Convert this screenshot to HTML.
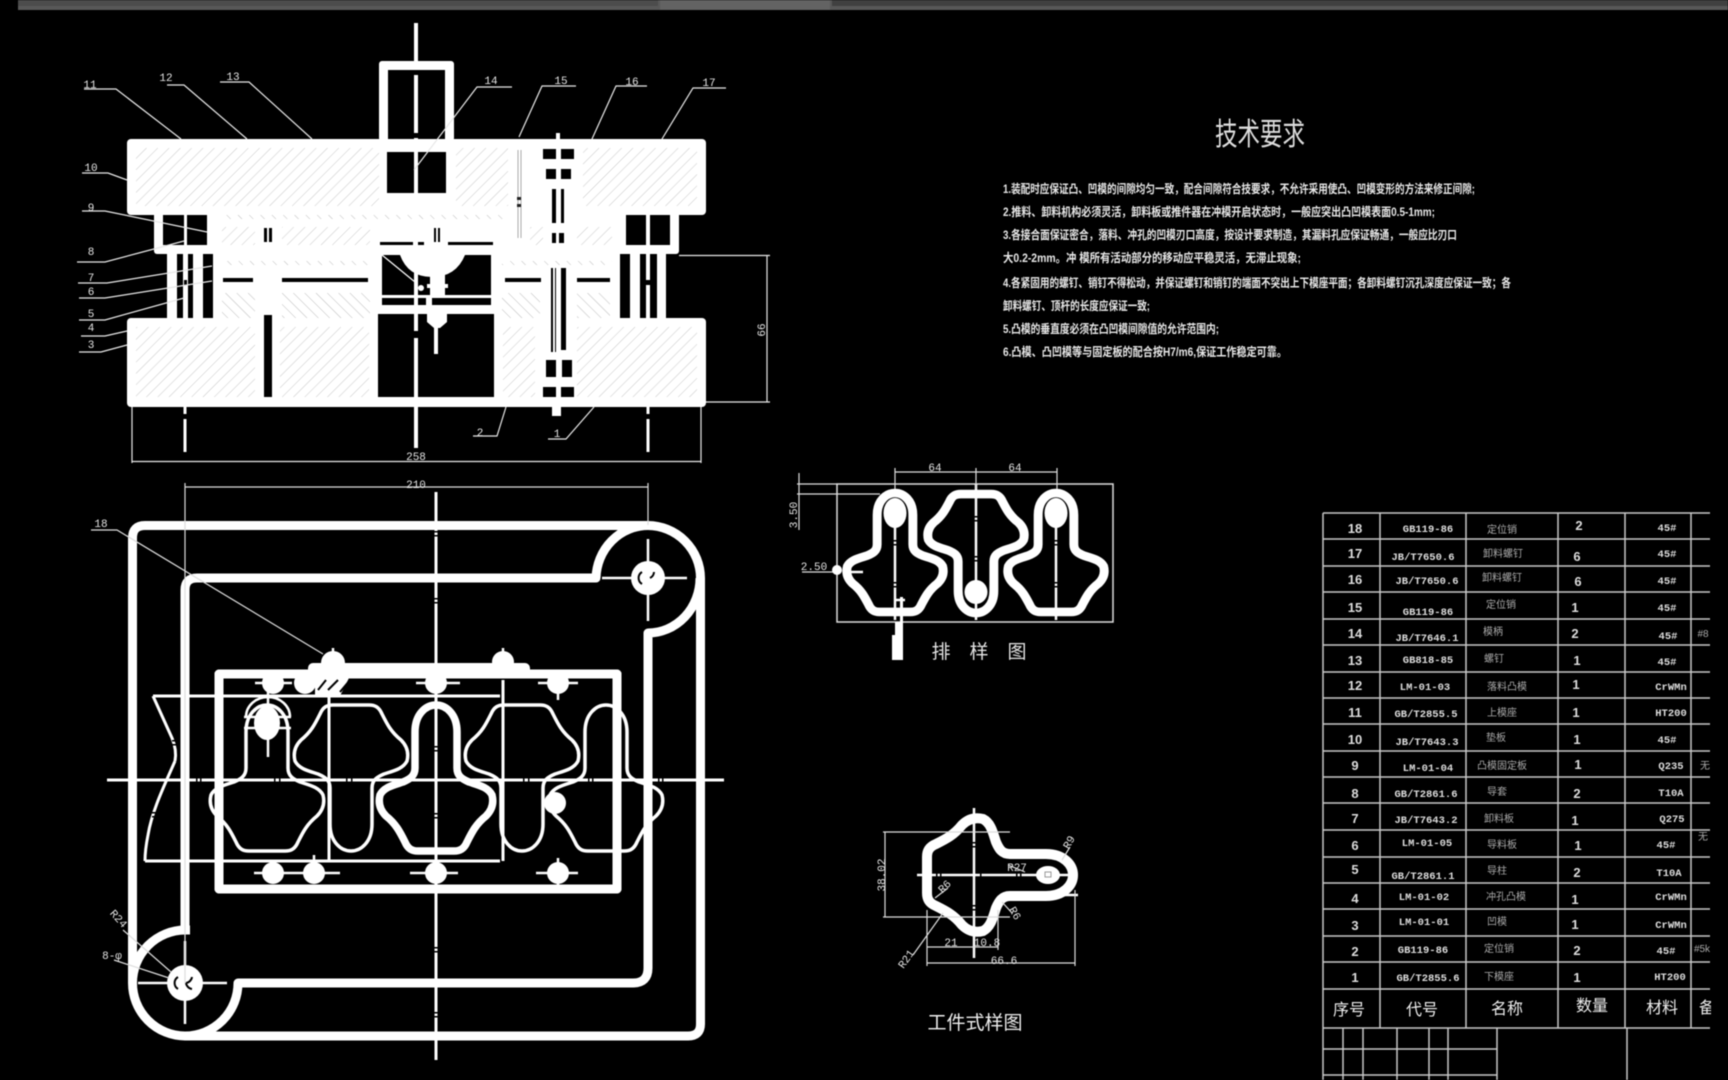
<!DOCTYPE html>
<html lang="zh"><head><meta charset="utf-8"><title>模具装配图</title>
<style>
html,body{margin:0;padding:0;background:#000;width:1728px;height:1080px;overflow:hidden}
svg{display:block;filter:blur(.45px)}
text{font-family:"Liberation Sans","Noto Sans CJK SC",sans-serif;fill:#e4e4e4}
.d{font-size:11px;text-anchor:middle;font-family:"Liberation Mono","Noto Sans CJK SC",monospace}
.t{font-size:12px;font-weight:700;fill:#e8e8e8;font-family:"Liberation Sans","Noto Sans CJK SC",sans-serif}
.n{font-size:13px;text-anchor:middle;font-weight:700;font-family:"Liberation Sans",sans-serif;fill:#ddd}
.c{font-size:10.5px;text-anchor:middle;font-weight:700;font-family:"Liberation Mono",monospace;fill:#ddd}
.m{font-size:10px;text-anchor:middle;fill:#aaa;font-family:"Liberation Sans","Noto Sans CJK SC",sans-serif}
.h{font-size:16px;text-anchor:middle;fill:#eee;font-family:"Liberation Sans","Noto Sans CJK SC",sans-serif}
</style></head><body>
<svg xmlns="http://www.w3.org/2000/svg" width="1728" height="1080" viewBox="0 0 1728 1080">
<defs>
<pattern id="h1" width="8" height="8" patternUnits="userSpaceOnUse" patternTransform="rotate(45)"><rect width="8" height="8" fill="#fff"/><line x1="0" y1="0" x2="0" y2="8" stroke="#c8c8c8" stroke-width="1" stroke-dasharray="14 2"/></pattern>
<pattern id="h2" width="8" height="8" patternUnits="userSpaceOnUse" patternTransform="rotate(-45)"><rect width="8" height="8" fill="#fff"/><line x1="0" y1="0" x2="0" y2="8" stroke="#bbb" stroke-width="1"/></pattern>
<path id="a" d="M-21,732C-21,714-10,705 0,705C10,705 21,714 21,732V768C21,776 26,779 33,782C42,785 52,787 56,795C58,803 56,810 50,816C40,824 36,832 31,842C28,849 24,851 18,851H-18C-24,851-28,849-31,842C-36,832-40,824-50,816C-56,810-58,803-56,795C-52,787-42,785-33,782C-26,779-21,776-21,768Z"/>
</defs>
<rect width="1728" height="1080" fill="#000"/>
<!-- top bar -->
<rect x="18" y="0" width="1710" height="10" fill="#585858"/>
<rect x="18" y="0" width="640" height="6" fill="#4c4c4c"/>
<rect x="660" y="0" width="170" height="10" fill="#636363"/>
<rect x="832" y="0" width="896" height="6" fill="#404040"/>

<!-- ========== FRONT SECTION ========== -->
<g>
<rect x="127" y="139" width="579" height="76" rx="4" fill="#fff"/>
<rect x="127" y="318" width="579" height="89" rx="4" fill="#fff"/>
<rect x="154" y="210" width="525" height="44" rx="3" fill="#fff"/>
<rect x="167" y="250" width="499" height="70" fill="#fff"/>
<rect x="379" y="61" width="75" height="80" rx="3" fill="#fff"/>
<rect x="388" y="70" width="57" height="69" fill="#000"/>
<!-- hatch -->
<rect x="136" y="148" width="243" height="58" fill="url(#h1)"/>
<rect x="456" y="148" width="52" height="58" fill="url(#h1)"/>
<rect x="583" y="148" width="114" height="58" fill="url(#h1)"/>
<rect x="136" y="327" width="119" height="70" fill="url(#h1)"/>
<rect x="280" y="327" width="89" height="70" fill="url(#h1)"/>
<rect x="503" y="327" width="32" height="70" fill="url(#h1)"/>
<rect x="577" y="327" width="120" height="70" fill="url(#h1)"/>
<rect x="222" y="227" width="33" height="18" fill="url(#h1)"/>
<rect x="282" y="227" width="88" height="18" fill="url(#h1)"/>
<rect x="530" y="227" width="13" height="18" fill="url(#h1)"/>
<rect x="577" y="227" width="35" height="18" fill="url(#h1)"/>
<rect x="222" y="215" width="285" height="4" fill="url(#h2)"/>
<rect x="222" y="261" width="148" height="4" fill="url(#h2)"/>
<rect x="502" y="261" width="110" height="4" fill="url(#h2)"/>
<rect x="222" y="293" width="33" height="25" fill="url(#h2)"/>
<rect x="282" y="293" width="88" height="25" fill="url(#h2)"/>
<rect x="502" y="293" width="38" height="25" fill="url(#h2)"/>
<rect x="577" y="293" width="33" height="25" fill="url(#h2)"/>
<g fill="#000">
<rect x="387" y="152" width="59" height="41"/>
<rect x="163" y="215" width="44" height="30"/>
<rect x="626" y="215" width="44" height="30"/>
<rect x="177" y="254" width="6" height="64"/><rect x="188" y="254" width="5" height="64"/><rect x="203" y="254" width="10" height="64"/>
<rect x="620" y="254" width="10" height="64"/><rect x="640" y="254" width="17" height="64"/>
<rect x="223" y="278" width="30" height="4"/><rect x="282" y="278" width="86" height="4"/>
<rect x="505" y="278" width="36" height="4"/><rect x="577" y="278" width="33" height="4"/>
<rect x="264" y="315" width="8" height="82"/>
<rect x="264" y="228" width="3" height="14"/><rect x="269" y="228" width="3" height="14"/>
<rect x="380" y="242" width="33" height="3"/><rect x="418" y="242" width="6" height="3"/><rect x="448" y="242" width="45" height="3"/>
<rect x="434" y="228" width="2" height="14"/><rect x="438" y="228" width="2" height="14"/>
<rect x="382" y="255" width="109" height="40"/>
<rect x="382" y="298" width="109" height="7"/>
<rect x="378" y="314" width="116" height="83"/>
<!-- right bolts -->
<rect x="543" y="149" width="31" height="10"/><rect x="546" y="169" width="25" height="10"/>
<rect x="552" y="189" width="12" height="34"/><rect x="552" y="233" width="12" height="10"/>
<rect x="561" y="268" width="5" height="82"/>
<rect x="546" y="360" width="26" height="17"/><rect x="543" y="387" width="31" height="10"/>
<rect x="551" y="268" width="5" height="84"/>
</g>
<!-- white center bars inside holes -->
<g fill="#fff">
<rect x="184" y="215" width="3" height="104"/>
<rect x="646" y="215" width="4" height="104"/>
<rect x="414" y="23" width="4" height="425"/>
<rect x="556" y="133" width="4" height="30"/>
<rect x="556" y="149" width="5" height="10"/>
<rect x="556" y="169" width="5" height="10"/>
<rect x="556" y="189" width="5" height="34"/>
<rect x="556" y="233" width="3" height="10"/>
<rect x="553" y="268" width="2" height="84"/>
<rect x="556" y="360" width="6" height="17"/>
<rect x="556" y="387" width="5" height="10"/>
<rect x="552" y="407" width="9" height="9"/>
<path d="M400,255Q408,277 432,277Q456,277 465,255Z"/>
<rect x="430" y="275" width="15" height="20"/><rect x="427" y="284" width="21" height="4"/>
<rect x="382" y="295" width="109" height="3"/>
<path d="M427,314H447V322L440,328H434L427,322Z"/>
<rect x="434" y="327" width="4" height="27"/>
<rect x="426" y="298" width="6" height="7"/>
<circle cx="421" cy="288" r="3"/>
<rect x="183.500" y="407" width="3" height="45"/>
<rect x="646.500" y="407" width="3" height="45"/>
</g>
<g stroke="#aaa" stroke-width="1" fill="none"><path d="M518,150V238M521,150V238"/></g>
<rect x="517" y="197" width="4" height="3" fill="#222"/><rect x="517" y="204" width="4" height="3" fill="#222"/>
<!-- center line breaks -->
<g fill="#000"><rect x="414" y="70" width="4" height="5"/><rect x="414" y="133" width="4" height="5"/><rect x="414" y="331" width="4" height="7"/>
<rect x="183" y="414" width="4" height="5"/><rect x="646" y="414" width="4" height="5"/><rect x="646" y="280" width="4" height="5"/><rect x="184" y="280" width="3" height="5"/></g>
<path d="M382,255L415,282" stroke="#fff" stroke-width="1.2"/>
<!-- leaders -->
<g stroke="#e8e8e8" stroke-width="1.2" fill="none">
<path d="M84,89H116L181,139"/><path d="M167,85H184L247,139"/><path d="M220,82H249L312,139"/>
<path d="M512,87H477L414,170"/><path d="M576,86H542L519,137"/><path d="M647,86H616L592,139"/><path d="M726,88H693L662,139"/>
<path d="M82,173H108L127,180"/><path d="M82,211H105L207,232"/><path d="M77,262H105L184,241"/>
<path d="M78,283H107L212,266"/><path d="M79,298H105L212,281"/><path d="M79,320H105L184,298"/>
<path d="M81,336H105L127,331"/><path d="M79,352H101L127,345"/>
<path d="M473,436H497L506,407"/><path d="M548,439H566L594,407"/>
<path d="M132,407V463M701,407V463M132,461.500H701"/>
<path d="M679,255.500H770M706,402H770M767,255V402"/>
</g>
<g class="d">
<text class="d" x="90" y="88">11</text><text class="d" x="166" y="81">12</text><text class="d" x="233" y="80">13</text>
<text class="d" x="491" y="84">14</text><text class="d" x="561" y="84">15</text><text class="d" x="632" y="85">16</text><text class="d" x="709" y="86">17</text>
<text class="d" x="91" y="171">10</text><text class="d" x="91" y="211">9</text><text class="d" x="91" y="255">8</text>
<text class="d" x="91" y="281">7</text><text class="d" x="91" y="295">6</text><text class="d" x="91" y="317">5</text>
<text class="d" x="91" y="331">4</text><text class="d" x="91" y="348">3</text>
<text class="d" x="480" y="436">2</text><text class="d" x="557" y="437">1</text>
<text class="d" x="416" y="460">258</text>
<text class="d" transform="translate(765,330) rotate(-90)">66</text>
</g>
</g>

<!-- ========== PLAN VIEW ========== -->
<g fill="none" stroke="#fff">
<path stroke-width="9" stroke-linejoin="round" d="M185,930A53,53 0 0 0 132.500,983V538Q132.500,525.500 145,525.500H648A53,53 0 0 1 700.500,578V1024Q700.500,1036 688,1036H185A53,53 0 0 1 132.500,983"/>
<path stroke-width="9" stroke-linejoin="round" d="M190,930H185V590Q185,578 197,578H596A52,54 0 0 1 648,525.500"/>
<path stroke-width="9" stroke-linejoin="round" d="M596,578H594M700,578A52,55 0 0 1 648,633V968Q648,983 633,983H238A53,53 0 0 1 185,1036"/>
<rect x="219" y="674" width="398" height="215" stroke-width="9" stroke-linejoin="round"/>
<!-- strip -->
<path stroke-width="3" d="M153,696H500M145,861H500M503,680V861M329,696V861"/>
<path stroke-width="3" d="M153,696L172,738Q177,750 175,761"/>
<path stroke-width="3" d="M175,761C166,782 152,810 148,835C146,845 145,852 145,861"/>
<!-- workpieces -->
<use href="#a" transform="translate(267,0)" stroke-width="3.500"/>
<use href="#a" transform="translate(606,0)" stroke-width="3.500"/>
<use href="#a" transform="translate(351,1556) scale(1,-1)" stroke-width="3.500"/>
<use href="#a" transform="translate(522,1556) scale(1,-1)" stroke-width="3.500"/>
<use href="#a" transform="translate(436,0)" stroke-width="7.500"/>
<rect x="219" y="674" width="398" height="215" stroke-width="9" stroke-linejoin="round" opacity="1"/>
<path stroke-width="3" d="M107,780H724M436,492V1060"/>
<path stroke-width="2.500" d="M602,578H687M648,539V621M138,983H227M185,941V1024"/>
<path stroke-width="2.500" d="M255,683H292M300,683H320M416,683H460M538,683H578M254,873H340M410,873H458M536,873H578M558,858V890M314,855V873M558,672V700M333,648V663M503,648V662"/>
<path stroke-width="2.500" d="M244,717H291M244,728H291M268,690V757M246,717A22,20 0 0 1 290,717"/>
</g>
<g fill="#fff">
<rect x="308" y="663" width="222" height="15" rx="5"/>
<circle cx="273" cy="683" r="11"/><circle cx="305" cy="683" r="11"/><circle cx="333" cy="663" r="12"/><circle cx="436" cy="683" r="11"/><circle cx="558" cy="683" r="11"/><circle cx="503" cy="662" r="11"/>
<path d="M315,676H350L340,696H315Z"/>
<circle cx="273" cy="873" r="11"/><circle cx="314" cy="873" r="11"/><circle cx="436" cy="873" r="11"/><circle cx="558" cy="873" r="11"/>
<ellipse cx="267" cy="723" rx="13" ry="17"/><circle cx="555" cy="803" r="11"/>
<circle cx="648" cy="578" r="17"/><circle cx="185" cy="983" r="18"/>
</g>
<g stroke="#000" stroke-width="2" fill="none">
<path d="M642,572A7,7 0 0 0 642,584M654,572A7,7 0 0 1 650,578"/>
<path d="M178,977A7,7 0 0 0 178,989M192,977A7,7 0 0 1 186,983M186,983A7,7 0 0 0 192,989"/>
<path d="M318,690L326,680M328,690L338,680M340,692L350,680"/>
</g>
<g fill="#000">
<rect x="196" y="778" width="1.500" height="4"/><rect x="200" y="778" width="1.500" height="4"/><rect x="274" y="778" width="1.500" height="4"/><rect x="279" y="778" width="1.500" height="4"/>
<rect x="346" y="778" width="1.500" height="4"/><rect x="351" y="778" width="1.500" height="4"/><rect x="523" y="778" width="1.500" height="4"/><rect x="528" y="778" width="1.500" height="4"/>
<rect x="588" y="778" width="1.500" height="4"/><rect x="592" y="778" width="1.500" height="4"/><rect x="658" y="778" width="1.500" height="4"/><rect x="662" y="778" width="1.500" height="4"/>
<rect x="434" y="531" width="4" height="1.500"/><rect x="434" y="535" width="4" height="1.500"/><rect x="434" y="598" width="4" height="1.500"/><rect x="434" y="602" width="4" height="1.500"/>
<rect x="434" y="746" width="4" height="1.500"/><rect x="434" y="750" width="4" height="1.500"/><rect x="434" y="813" width="4" height="1.500"/><rect x="434" y="817" width="4" height="1.500"/>
<rect x="434" y="947" width="4" height="1.500"/><rect x="434" y="951" width="4" height="1.500"/><rect x="434" y="1012" width="4" height="1.500"/><rect x="434" y="1016" width="4" height="1.500"/>
<rect x="172" y="740" width="5" height="1.500"/><rect x="172" y="744" width="5" height="1.500"/><rect x="152" y="812" width="5" height="1.500"/><rect x="152" y="816" width="5" height="1.500"/>
</g>
<g stroke="#ddd" stroke-width="1.200" fill="none">
<path d="M91,530H117L323,654"/>
<path d="M185,483V983M648,483V525M185,487H648"/>
<path d="M123,930L171,972M114,960L169,978"/>
</g>
<text class="d" x="101" y="527">18</text>
<text class="d" x="416" y="488">210</text>
<text class="d" transform="translate(116,921) rotate(48)">R24</text>
<text class="d" x="112" y="959">8-φ</text>

<!-- ========== LAYOUT ========== -->
<g fill="none">
<rect x="837" y="484" width="276" height="138" stroke="#ddd" stroke-width="1.500"/>
<g stroke="#fff" stroke-width="10.500">
<use href="#a" transform="matrix(.85 0 0 .815 895 -81.600)"/>
<use href="#a" transform="matrix(.85 0 0 .815 1056 -81.600)"/>
<use href="#a" transform="matrix(.85 0 0 -.815 976 1187.600)"/>
</g>
<path stroke="#fff" stroke-width="2.500" d="M895,498V620M1056,498V620M976,484V620M843,572H863M896,600H905"/>
<path stroke="#ddd" stroke-width="1.200" d="M895,468V489M976,468V489M1057,468V489M895,472H1057M797,484H837M797,494H880M799,473V530M802,572H835"/>
</g>
<g fill="#fff">
<ellipse cx="895" cy="513" rx="11.500" ry="15"/><ellipse cx="1056" cy="513" rx="11.500" ry="15"/><ellipse cx="976" cy="592" rx="11.500" ry="12"/>
<circle cx="837" cy="570" r="5"/>
<rect x="900" y="597" width="3" height="26"/><rect x="892" y="635" width="11" height="25"/><rect x="895" y="622" width="8" height="13"/>
</g>
<g fill="#000">
<rect x="893" y="540" width="4" height="1.500"/><rect x="893" y="544" width="4" height="1.500"/><rect x="893" y="582" width="4" height="1.500"/><rect x="893" y="586" width="4" height="1.500"/>
<rect x="1054" y="540" width="4" height="1.500"/><rect x="1054" y="544" width="4" height="1.500"/><rect x="1054" y="582" width="4" height="1.500"/><rect x="1054" y="586" width="4" height="1.500"/>
<rect x="974" y="516" width="4" height="1.500"/><rect x="974" y="520" width="4" height="1.500"/><rect x="974" y="556" width="4" height="1.500"/><rect x="974" y="560" width="4" height="1.500"/>
</g>
<text class="d" x="935" y="471" font-size="12">64</text><text class="d" x="1015" y="471">64</text>
<text class="d" transform="translate(797,515) rotate(-90)">3.50</text>
<text class="d" x="814" y="570">2.50</text>
<text x="941" y="658" style="font-size:19px;text-anchor:middle;font-family:'Liberation Sans','Noto Sans CJK SC',sans-serif">排</text>
<text x="979" y="658" style="font-size:19px;text-anchor:middle;font-family:'Liberation Sans','Noto Sans CJK SC',sans-serif">样</text>
<text x="1017" y="658" style="font-size:19px;text-anchor:middle;font-family:'Liberation Sans','Noto Sans CJK SC',sans-serif">图</text>

<!-- ========== WORKPIECE ========== -->
<g fill="none">
<use href="#a" transform="matrix(0 1 -1 0 1778 875)" stroke="#fff" stroke-width="10"/>
<path stroke="#fff" stroke-width="2.500" d="M917,875H1071M974,808V958M1033,895H1078"/>
<path stroke="#ddd" stroke-width="1.200" d="M885,832V917M883,832H1010M883,917H1010M927,947H998M927,910V966M998,910V950M927,963H1075M1075,890V966M913,955L943,913M1002,902L1012,913M1062,860L1070,847M935,898L948,888M1008,865L1025,872"/>
</g>
<ellipse cx="1048" cy="875" rx="12" ry="9" fill="#fff"/>
<rect x="1045" y="872" width="6" height="5" fill="none" stroke="#999" stroke-width="1"/>
<g fill="#000"><rect x="936" y="873" width="1.500" height="4"/><rect x="940" y="873" width="1.500" height="4"/><rect x="980" y="873" width="1.500" height="4"/><rect x="1016" y="873" width="1.500" height="4"/><rect x="1020" y="873" width="1.500" height="4"/><rect x="972" y="842" width="4" height="1.500"/><rect x="972" y="846" width="4" height="1.500"/><rect x="972" y="905" width="4" height="1.500"/><rect x="972" y="909" width="4" height="1.500"/></g>
<text class="d" transform="translate(885,875) rotate(-90)">38.02</text>
<text class="d" x="951" y="946">21</text><text class="d" x="987" y="946">10.8</text><text class="d" x="1004" y="964">66.6</text>
<text class="d" transform="translate(909,961) rotate(-55)">R21</text>
<text class="d" transform="translate(947,889) rotate(-45)">R6</text>
<text class="d" transform="translate(1012,915) rotate(60)">R6</text>
<text class="d" x="1017" y="871">R27</text>
<text class="d" transform="translate(1072,844) rotate(-60)">R9</text>
<text x="975" y="1029" style="font-size:19px;text-anchor:middle;fill:#eee;font-family:'Liberation Sans','Noto Sans CJK SC',sans-serif">工件式样图</text>

<!-- ========== TECH REQUIREMENTS ========== -->
<text transform="translate(1260,145) scale(.9,1.25)" style="font-size:25px;text-anchor:middle;fill:#ddd;font-family:'Liberation Sans','Noto Sans CJK SC',sans-serif">技术要求</text>
<g class="t">
<text class="t" x="1003" y="193" textLength="472" lengthAdjust="spacingAndGlyphs">1.装配时应保证凸、凹模的间隙均匀一致，配合间隙符合技要求，不允许采用使凸、凹模变形的方法来修正间隙;</text>
<text class="t" x="1003" y="216" textLength="432" lengthAdjust="spacingAndGlyphs">2.推料、卸料机构必须灵活，卸料板或推件器在冲模开启状态时，一般应突出凸凹模表面0.5-1mm;</text>
<text class="t" x="1003" y="239" textLength="454" lengthAdjust="spacingAndGlyphs">3.各接合面保证密合，落料、冲孔的凹模刃口高度，按设计要求制造，其漏料孔应保证畅通，一般应比刃口</text>
<text class="t" x="1003" y="262" textLength="298" lengthAdjust="spacingAndGlyphs">大0.2-2mm。冲 模所有活动部分的移动应平稳灵活，无滞止现象;</text>
<text class="t" x="1003" y="287" textLength="508" lengthAdjust="spacingAndGlyphs">4.各紧固用的螺钉、销钉不得松动，并保证螺钉和销钉的端面不突出上下模座平面；各卸料螺钉沉孔深度应保证一致；各</text>
<text class="t" x="1003" y="310" textLength="147" lengthAdjust="spacingAndGlyphs">卸料螺钉、顶杆的长度应保证一致;</text>
<text class="t" x="1003" y="333" textLength="216" lengthAdjust="spacingAndGlyphs">5.凸模的垂直度必须在凸凹模间隙值的允许范围内;</text>
<text class="t" x="1003" y="356" textLength="284" lengthAdjust="spacingAndGlyphs">6.凸模、凸凹模等与固定板的配合按H7/m6,保证工作稳定可靠。</text>
</g>

<!-- ========== BOM TABLE ========== -->
<g stroke="#c8c8c8" stroke-width="1.500" fill="none">
<path d="M1323,513H1710M1323,539H1710M1323,566H1710M1323,592H1710M1323,619H1710M1323,645H1710M1323,672H1710M1323,698H1710M1323,724H1710M1323,751H1710M1323,777H1710M1323,803H1710M1323,830H1710M1323,857H1710M1323,883H1710M1323,909H1710M1323,936H1710M1323,962H1710M1323,989H1710M1323,1028H1710"/>
<path d="M1323,513V1080M1380,513V1028M1466,513V1028M1558,513V1028M1625,513V1028M1691,513V1028"/>
<path d="M1323,1049H1497M1323,1075H1497M1343,1028V1080M1363,1028V1080M1397,1028V1080M1429,1028V1080M1448,1028V1080M1497,1028V1080M1627,1028V1080"/>
</g>
<g>
<text class="n" x="1355" y="533">18</text><text class="c" x="1428" y="532">GB119-86</text><text class="m" x="1502" y="533">定位销</text><text class="n" x="1579" y="530">2</text><text class="c" x="1667" y="531">45#</text>
<text class="n" x="1355" y="558">17</text><text class="c" x="1423" y="560">JB/T7650.6</text><text class="m" x="1503" y="557">卸料螺钉</text><text class="n" x="1577" y="561">6</text><text class="c" x="1667" y="557">45#</text>
<text class="n" x="1355" y="584">16</text><text class="c" x="1427" y="584">JB/T7650.6</text><text class="m" x="1502" y="581">卸料螺钉</text><text class="n" x="1578" y="586">6</text><text class="c" x="1667" y="584">45#</text>
<text class="n" x="1355" y="612">15</text><text class="c" x="1428" y="615">GB119-86</text><text class="m" x="1501" y="608">定位销</text><text class="n" x="1575" y="612">1</text><text class="c" x="1667" y="611">45#</text>
<text class="n" x="1355" y="638">14</text><text class="c" x="1427" y="641">JB/T7646.1</text><text class="m" x="1493" y="635">模柄</text><text class="n" x="1575" y="638">2</text><text class="c" x="1668" y="639">45#</text><text class="m" x="1703" y="637">#8</text>
<text class="n" x="1355" y="665">13</text><text class="c" x="1428" y="663">GB818-85</text><text class="m" x="1494" y="662">螺钉</text><text class="n" x="1577" y="665">1</text><text class="c" x="1667" y="665">45#</text>
<text class="n" x="1355" y="690">12</text><text class="c" x="1425" y="690">LM-01-03</text><text class="m" x="1507" y="690">落料凸模</text><text class="n" x="1576" y="689">1</text><text class="c" x="1671" y="690">CrWMn</text>
<text class="n" x="1355" y="717">11</text><text class="c" x="1426" y="717">GB/T2855.5</text><text class="m" x="1502" y="716">上模座</text><text class="n" x="1576" y="717">1</text><text class="c" x="1671" y="716">HT200</text>
<text class="n" x="1355" y="744">10</text><text class="c" x="1427" y="745">JB/T7643.3</text><text class="m" x="1496" y="741">垫板</text><text class="n" x="1577" y="744">1</text><text class="c" x="1667" y="743">45#</text>
<text class="n" x="1355" y="770">9</text><text class="c" x="1428" y="771">LM-01-04</text><text class="m" x="1502" y="769">凸模固定板</text><text class="n" x="1578" y="769">1</text><text class="c" x="1671" y="769">Q235</text><text class="m" x="1705" y="769">无</text>
<text class="n" x="1355" y="798">8</text><text class="c" x="1426" y="797">GB/T2861.6</text><text class="m" x="1497" y="795">导套</text><text class="n" x="1577" y="798">2</text><text class="c" x="1671" y="796">T10A</text>
<text class="n" x="1355" y="823">7</text><text class="c" x="1426" y="823">JB/T7643.2</text><text class="m" x="1499" y="822">卸料板</text><text class="n" x="1575" y="825">1</text><text class="c" x="1672" y="822">Q275</text>
<text class="n" x="1355" y="850">6</text><text class="c" x="1427" y="846">LM-01-05</text><text class="m" x="1502" y="848">导料板</text><text class="n" x="1578" y="850">1</text><text class="c" x="1666" y="848">45#</text><text class="m" x="1703" y="840">无</text>
<text class="n" x="1355" y="874">5</text><text class="c" x="1423" y="879">GB/T2861.1</text><text class="m" x="1497" y="874">导柱</text><text class="n" x="1577" y="877">2</text><text class="c" x="1669" y="876">T10A</text>
<text class="n" x="1355" y="903">4</text><text class="c" x="1424" y="900">LM-01-02</text><text class="m" x="1506" y="900">冲孔凸模</text><text class="n" x="1575" y="904">1</text><text class="c" x="1671" y="900">CrWMn</text>
<text class="n" x="1355" y="930">3</text><text class="c" x="1424" y="925">LM-01-01</text><text class="m" x="1497" y="925">凹模</text><text class="n" x="1575" y="929">1</text><text class="c" x="1671" y="928">CrWMn</text>
<text class="n" x="1355" y="956">2</text><text class="c" x="1423" y="953">GB119-86</text><text class="m" x="1499" y="952">定位销</text><text class="n" x="1577" y="955">2</text><text class="c" x="1666" y="954">45#</text><text class="m" x="1702" y="952">#5k</text>
<text class="n" x="1355" y="982">1</text><text class="c" x="1428" y="981">GB/T2855.6</text><text class="m" x="1499" y="980">下模座</text><text class="n" x="1577" y="982">1</text><text class="c" x="1670" y="980">HT200</text>
<text class="h" x="1349" y="1015">序号</text><text class="h" x="1422" y="1015">代号</text><text class="h" x="1507" y="1014">名称</text><text class="h" x="1592" y="1011">数量</text><text class="h" x="1662" y="1013">材料</text><text class="h" x="1707" y="1013">备</text>
</g>
<rect x="1711" y="500" width="17" height="580" fill="#000"/>
</svg>
</body></html>
